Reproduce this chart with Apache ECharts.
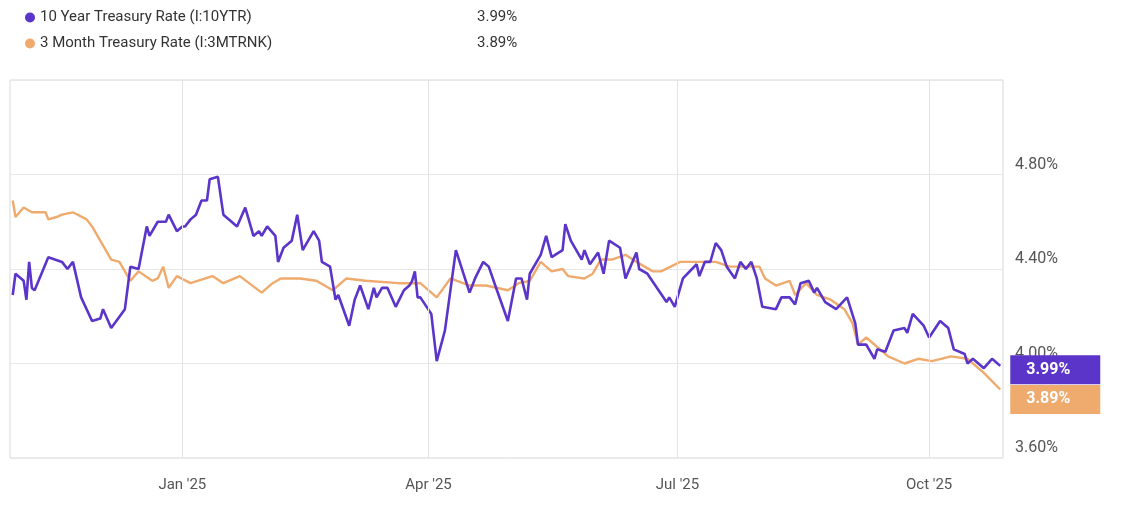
<!DOCTYPE html>
<html><head><meta charset="utf-8">
<script src="https://cdn.jsdelivr.net/npm/echarts@6/dist/echarts.min.js"></script>
<style>html,body{margin:0;padding:0;background:#fff}#c{width:1127px;height:505px}</style>
</head><body><div id="c"></div>
<script>
// day offsets from 2025-01-01
const days10 = [-62,-61,-58,-57,-56,-55,-54,-49,-44,-42,-40,-37,-33,-30,-29,-26,-21,-19,-16,-13,-12,-9,-6,-5,-2,0,1,3,5,7,9,10,13,15,20,23,26,28,29,31,34,35,37,40,42,44,48,50,51,54,56,57,61,63,65,68,70,71,73,75,78,81,83,84,85,86,87,91,93,96,100,105,107,110,112,115,119,122,124,126,127,131,133,135,139,140,142,146,147,149,152,154,156,160,162,166,167,170,177,178,180,183,188,189,191,193,195,197,199,202,204,206,208,210,212,217,219,222,224,226,229,231,232,235,239,243,246,247,250,253,254,257,260,264,265,267,271,273,277,280,282,286,287,289,293,296,299];
const rate10 = [4.29,4.38,4.35,4.27,4.43,4.32,4.31,4.45,4.43,4.40,4.43,4.28,4.18,4.19,4.23,4.15,4.23,4.41,4.40,4.58,4.54,4.60,4.60,4.63,4.56,4.58,4.58,4.61,4.63,4.69,4.69,4.78,4.79,4.63,4.58,4.66,4.54,4.56,4.54,4.58,4.54,4.43,4.49,4.52,4.63,4.48,4.56,4.52,4.43,4.41,4.27,4.29,4.16,4.27,4.33,4.23,4.32,4.28,4.32,4.32,4.24,4.31,4.33,4.35,4.39,4.28,4.28,4.21,4.01,4.14,4.48,4.30,4.36,4.43,4.41,4.31,4.18,4.36,4.36,4.27,4.38,4.46,4.54,4.45,4.48,4.59,4.52,4.44,4.48,4.42,4.47,4.38,4.52,4.49,4.36,4.47,4.40,4.38,4.26,4.28,4.24,4.36,4.42,4.37,4.43,4.43,4.51,4.48,4.41,4.36,4.43,4.40,4.43,4.36,4.24,4.23,4.28,4.28,4.25,4.34,4.35,4.30,4.32,4.26,4.23,4.28,4.17,4.08,4.08,4.02,4.06,4.05,4.14,4.15,4.13,4.21,4.16,4.11,4.18,4.15,4.06,4.04,4.00,4.02,3.98,4.02,3.99];
const days3m = [-62,-61,-58,-55,-50,-49,-46,-44,-40,-35,-33,-30,-26,-23,-19,-16,-11,-9,-7,-5,-2,3,11,15,21,29,33,36,43,49,55,60,67,79,87,93,98,105,111,119,123,127,131,135,139,141,147,150,153,157,162,166,172,175,182,190,195,200,206,211,213,217,222,224,228,232,237,242,245,247,250,258,264,269,274,281,287,293,299];
const rate3m = [4.69,4.62,4.66,4.64,4.64,4.61,4.62,4.63,4.64,4.61,4.58,4.52,4.44,4.43,4.35,4.39,4.35,4.36,4.41,4.32,4.37,4.34,4.37,4.34,4.37,4.30,4.34,4.36,4.36,4.35,4.31,4.36,4.35,4.34,4.34,4.28,4.36,4.33,4.33,4.31,4.34,4.35,4.43,4.39,4.40,4.37,4.36,4.38,4.44,4.44,4.46,4.43,4.39,4.39,4.43,4.43,4.43,4.41,4.41,4.41,4.36,4.33,4.35,4.29,4.34,4.29,4.27,4.23,4.17,4.08,4.11,4.03,4.00,4.02,4.01,4.03,4.02,3.96,3.89];
const tickDays = [0,90,181,273];
const tickLabels = ["Jan '25","Apr '25","Jul '25","Oct '25"];
const names = ['10 Year Treasury Rate (I:10YTR)','3 Month Treasury Rate (I:3MTRNK)'];
const lastVals = ['3.99%','3.89%'];
const colors = ['#5b35c9','#efaa6e'];

const chart = echarts.init(document.getElementById('c'));
const mk = (d,v)=>d.map((x,i)=>[x,v[i]]);
const endLbl = (i)=>({show:true, formatter:lastVals[i], color:'#fff', fontFamily:'Roboto', fontSize:16, fontWeight:'bold',
  backgroundColor:colors[i], padding:[7,12,6,16], offset:[2, i===1?10:4], width:62, align:'left'});
chart.setOption({
  animation:false,
  textStyle:{fontFamily:'Roboto'},
  legend:{left:20, top:5, orient:'vertical', itemGap:11, icon:'circle', itemWidth:10, itemHeight:10,
    textStyle:{fontSize:15, color:'#333', rich:{n:{width:437,fontSize:15,color:'#333'},v:{fontSize:15,color:'#333'}}},
    formatter:(n)=>'{n|'+n+'}{v|'+lastVals[names.indexOf(n)]+'}'},
  grid:{left:10, right:124, top:80, bottom:47, show:true, borderColor:'#d9d9d9', borderWidth:1},
  xAxis:{type:'value', min:-63, max:300, splitLine:{show:false}, axisLine:{show:false}, axisTick:{show:false},
    axisLabel:{customValues:tickDays, formatter:(v)=>tickLabels[tickDays.indexOf(v)]||'', color:'#555', fontSize:15, margin:20}},
  yAxis:{type:'value', position:'right', min:3.6, max:5.2, interval:0.4,
    axisLine:{show:false}, axisTick:{show:false}, splitLine:{lineStyle:{color:'#e8e8e8'}},
    axisLabel:{formatter:(v)=>v>5.1?'':v.toFixed(2)+'%', color:'#555', fontSize:16, verticalAlign:'bottom', margin:12, padding:[0,0,2,0]}},
  series:[
    {name:names[0], type:'line', data:mk(days10,rate10), showSymbol:false, color:colors[0], lineStyle:{width:2.6}, z:3,
     endLabel:endLbl(0),
     markLine:{silent:true, symbol:'none', label:{show:false}, lineStyle:{color:'#e3e3e3', type:'solid', width:1},
       data:tickDays.map(d=>({xAxis:d}))}},
    {name:names[1], type:'line', data:mk(days3m,rate3m), showSymbol:false, color:colors[1], lineStyle:{width:2.4}, z:2,
     endLabel:endLbl(1)}
  ]
});
</script></body></html>
